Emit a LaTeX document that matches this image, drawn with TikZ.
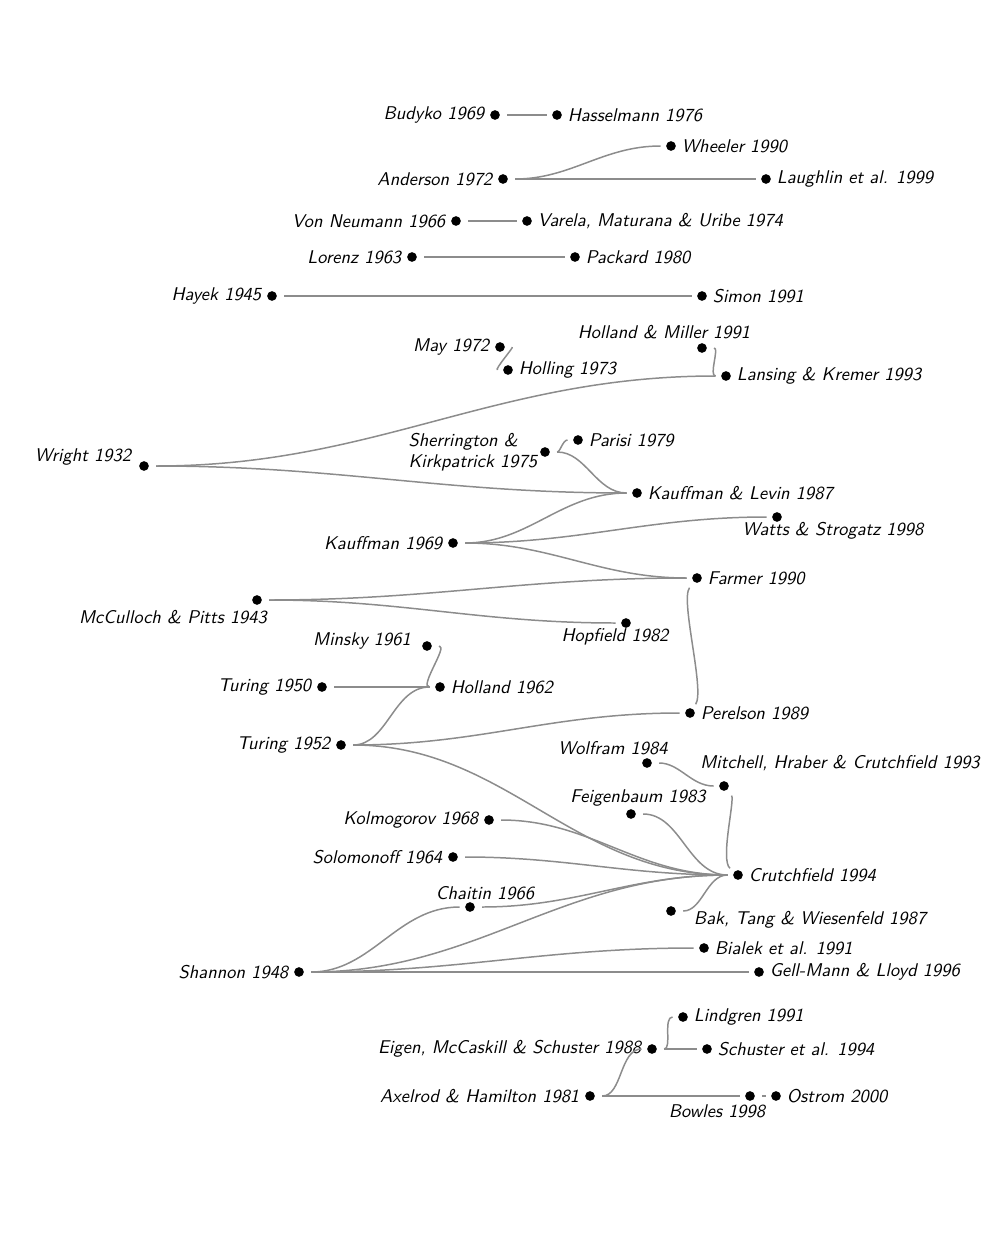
\documentclass[tikz,border=0pt]{standalone}
\usepackage{fontspec}
\begin{document}
\begin{tikzpicture}[x=0.02cm,y=-0.02cm,
  dot/.style={circle,fill=black,inner sep=0pt,minimum size=5.5pt},
  lbl/.style={font=\fontsize{10.5}{12}\selectfont\sffamily\itshape,inner sep=2pt,align=left},
  every label/.style={lbl},
  label distance=1pt,
  edge/.style={draw=black!45,line width=0.85pt,shorten <=4pt,shorten >=3pt}]
\useasboundingbox (0,0) rectangle (1000,1250);
\node[dot,label=180:Budyko 1969] (budyko) at (495,115) {};
\node[dot,label=0:Hasselmann 1976] (hass) at (557,115) {};
\node[dot,label=180:Anderson 1972] (anderson) at (503,179) {};
\node[dot,label=0:Wheeler 1990] (wheeler) at (671,146) {};
\node[dot,label=0:Laughlin et al. 1999] (laughlin) at (766,179) {};
\node[dot,label=180:Von Neumann 1966] (vonneumann) at (456,221) {};
\node[dot,label=0:{Varela, Maturana \& Uribe 1974}] (varela) at (527,221) {};
\node[dot,label=180:Lorenz 1963] (lorenz) at (412,257) {};
\node[dot,label=0:Packard 1980] (packard) at (575,257) {};
\node[dot,label=180:Hayek 1945] (hayek) at (272,296) {};
\node[dot,label=0:Simon 1991] (simon) at (702,296) {};
\node[dot,label=180:May 1972] (may) at (500,347) {};
\node[dot,label=0:Holling 1973] (holling) at (508,370) {};
\node[dot,label={[anchor=south,yshift=3pt,xshift=-38\pgflinewidth]90:}] (hollandmiller) at (702,348) {};
\node[lbl,anchor=center] (hmtext) at (664,332) {Holland \& Miller 1991};
\node[dot,label=0:Lansing \& Kremer 1993] (lansing) at (726,376) {};
\node[dot] (wright) at (144,466) {};
\node[lbl] (wrighttext) at (83,457) {Wright 1932};
\node[dot] (sherr) at (545,452) {};
\node[lbl,anchor=east] (sherrtext) at (541,452) {Sherrington \&\\Kirkpatrick 1975};
\node[dot,label=0:Parisi 1979] (parisi) at (578,440) {};
\node[dot,label=0:Kauffman \& Levin 1987] (klevin) at (637,493) {};
\node[dot] (watts) at (777,517) {};
\node[lbl] (wattstext) at (833,531) {Watts \& Strogatz 1998};
\node[dot,label=180:Kauffman 1969] (kauffman) at (453,543) {};
\node[dot,label=0:Farmer 1990] (farmer) at (697,578) {};
\node[dot] (mcculloch) at (257,600) {};
\node[lbl] (mcctext) at (173,617) {McCulloch \& Pitts 1943};
\node[dot] (hopfield) at (626,623) {};
\node[lbl] (hoptext) at (615,637) {Hopfield 1982};
\node[dot] (minsky) at (427,646) {};
\node[lbl] (minskytext) at (362,641) {Minsky 1961};
\node[dot,label=0:Holland 1962] (holland) at (440,687) {};
\node[dot,label=180:Turing 1950] (turing50) at (322,687) {};
\node[dot,label=0:Perelson 1989] (perelson) at (690,713) {};
\node[dot,label=180:Turing 1952] (turing52) at (341,745) {};
\node[dot] (wolfram) at (647,763) {};
\node[lbl] (wolframtext) at (613,748) {Wolfram 1984};
\node[dot] (mitchell) at (724,786) {};
\node[lbl] (mitchelltext) at (840,763) {Mitchell, Hraber \& Crutchfield 1993};
\node[dot] (feigen) at (631,814) {};
\node[lbl] (feigentext) at (638,798) {Feigenbaum 1983};
\node[dot,label=180:Kolmogorov 1968] (kolmo) at (489,820) {};
\node[dot,label=180:Solomonoff 1964] (solo) at (453,857) {};
\node[dot,label=0:Crutchfield 1994] (crutch) at (738,875) {};
\node[dot] (chaitin) at (470,907) {};
\node[lbl] (chaitintext) at (485,893) {Chaitin 1966};
\node[dot] (bak) at (671,911) {};
\node[lbl] (baktext) at (810,920) {Bak, Tang \& Wiesenfeld 1987};
\node[dot,label=0:Bialek et al. 1991] (bialek) at (704,948) {};
\node[dot,label=180:Shannon 1948] (shannon) at (299,972) {};
\node[dot,label=0:Gell-Mann \& Lloyd 1996] (gellmann) at (759,972) {};
\node[dot,label=0:Lindgren 1991] (lindgren) at (683,1017) {};
\node[dot,label=180:{Eigen, McCaskill \& Schuster 1988}] (eigen) at (652,1049) {};
\node[dot,label=0:Schuster et al. 1994] (schuster) at (707,1049) {};
\node[dot,label=180:Axelrod \& Hamilton 1981] (axelrod) at (590,1096) {};
\node[dot] (bowles) at (750,1096) {};
\node[lbl] (bowlestext) at (717,1111) {Bowles 1998};
\node[dot,label=0:Ostrom 2000] (ostrom) at (776,1096) {};

\foreach \a/\b in {budyko/hass,anderson/wheeler,anderson/laughlin,vonneumann/varela,
  lorenz/packard,hayek/simon,may/holling,hollandmiller/lansing,wright/lansing,wright/klevin,
  sherr/parisi,sherr/klevin,kauffman/klevin,kauffman/watts,kauffman/farmer,
  mcculloch/farmer,mcculloch/hopfield,minsky/holland,turing50/holland,turing52/holland,
  turing52/perelson,turing52/crutch,wolfram/mitchell,feigen/crutch,kolmo/crutch,
  solo/crutch,chaitin/crutch,shannon/chaitin,shannon/crutch,shannon/bialek,
  shannon/gellmann,bak/crutch,eigen/lindgren,eigen/schuster,axelrod/eigen,
  axelrod/bowles,bowles/ostrom}
  \draw[edge] (\a) to[out=0,in=180] (\b);
\draw[edge] (farmer) .. controls (680,600) and (705,690) .. (perelson);
\draw[edge] (mitchell) .. controls (735,800) and (720,860) .. (crutch);
\end{tikzpicture}
\end{document}
